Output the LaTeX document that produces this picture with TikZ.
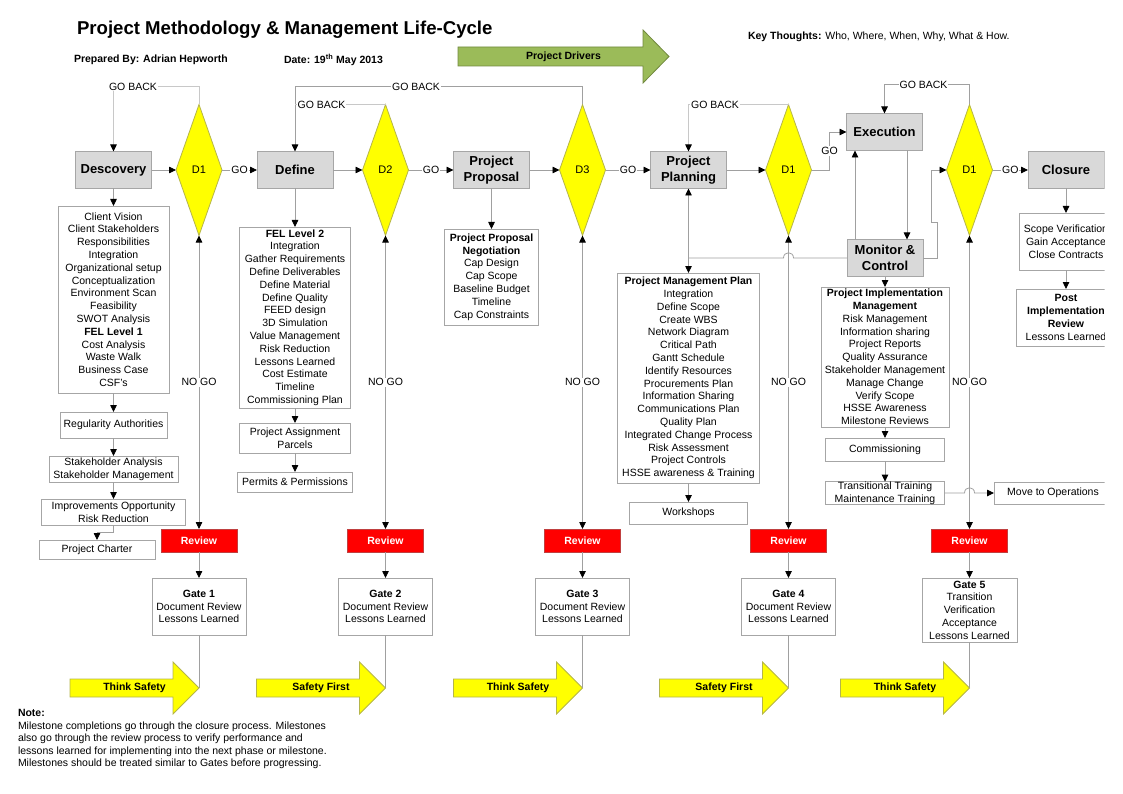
\documentclass[tikz,border=0pt]{standalone}
\usepackage{fontspec}
\setmainfont{Liberation Sans}
\usetikzlibrary{shapes.geometric,arrows.meta,calc}
\definecolor{lnc}{HTML}{A0A0A0}
\definecolor{lnl}{HTML}{C8C8C8}
\definecolor{bxc}{HTML}{A6A6A6}
\definecolor{bxfill}{HTML}{D9D9D9}
\definecolor{yel}{HTML}{FFFF00}
\definecolor{yelb}{HTML}{B5B54A}
\definecolor{grn}{HTML}{9BBB59}
\definecolor{grnb}{HTML}{71893F}
\definecolor{revf}{HTML}{FF0000}
\definecolor{revb}{HTML}{C04040}
\newcommand\safetyarr[2]{%
  \fill[yel, draw=yelb, line width=0.8pt] (#1) -- ++(-26,-26) -- ++(0,17) -- ++(-103,0) -- ++(0,18) -- ++(103,0) -- ++(0,17) -- cycle;
  \node[font=\fontsize{10.5}{12}\selectfont\bfseries] (#1l) at ($(#1)+(-64.5,0)$) {#2};
}
\begin{document}
\begin{tikzpicture}[x=1pt,y=-1pt,
  every node/.style={inner sep=0pt, outer sep=0pt},
  tip/.style={Triangle[length=7pt,width=6.5pt,color=black]},
  lnk/.style={draw=lnc, line width=0.8pt},
  arr/.style={lnk, -{Triangle[length=7pt,width=6.5pt,color=black]}},
  both/.style={lnk, {Triangle[length=7pt,width=6.5pt,color=black]}-{Triangle[length=7pt,width=6.5pt,color=black]}},
  mainbox/.style={draw=bxc, fill=bxfill, line width=0.8pt, minimum width=76pt, minimum height=37pt, align=center, font=\fontsize{13}{15.5}\selectfont\bfseries},
  listbox/.style={draw=bxc, fill=white, line width=0.8pt, align=center, font=\fontsize{10.5}{12.8}\selectfont},
  dia/.style={diamond, draw=yelb, fill=yel, line width=0.8pt, minimum width=46pt, minimum height=131pt, font=\fontsize{11}{13}\selectfont},
  lbl/.style={fill=white, inner sep=1pt, font=\fontsize{10.5}{12}\selectfont},
  review/.style={draw=revb, fill=revf, line width=0.8pt, minimum width=76pt, minimum height=23pt, text=white, font=\fontsize{10.5}{12}\selectfont\bfseries},
  gate/.style={listbox, minimum width=94pt, minimum height=57pt},
]
\useasboundingbox (0,0) rectangle (1123,794);

% header
\node[anchor=west, font=\fontsize{18.6}{22}\selectfont\bfseries] (title) at (77,30) {Project Methodology \& Management Life-Cycle};
\node[anchor=west, font=\fontsize{10.5}{12}\selectfont\bfseries] (prep) at (74,60) {Prepared By: Adrian Hepworth};
\node[anchor=west, font=\fontsize{10.5}{12}\selectfont\bfseries] (date) at (284,60) {Date: 19\textsuperscript{th} May 2013};
\node[anchor=west, font=\fontsize{10.5}{12}\selectfont] (key) at (748,37) {\textbf{Key Thoughts:} Who, Where, When, Why, What \& How.};
\fill[grn, draw=grnb, line width=0.8pt] (458,47) -- (643,47) -- (643,30) -- (669,56.5) -- (643,83) -- (643,66) -- (458,66) -- cycle;
\node[font=\fontsize{10.5}{12}\selectfont\bfseries] (drv) at (563.5,56.5) {Project Drivers};

% main row
\node[mainbox] (disc) at (113.5,170) {Descovery};
\node[dia] (d1) at (199,170) {D1};
\node[mainbox] (def) at (295,170) {Define};
\node[dia] (d2) at (385.5,170) {D2};
\node[mainbox] (pp) at (491.5,170) {Project\\Proposal};
\node[dia] (d3) at (582.5,170) {D3};
\node[mainbox] (ppl) at (688.5,170) {Project\\Planning};
\node[dia] (d4) at (788.5,170) {D1};
\node[mainbox] (exe) at (884.5,132) {Execution};
\node[mainbox] (mon) at (885,258) {Monitor \&\\Control};
\node[dia] (d5) at (969.5,170) {D1};

% discovery column
\node[listbox, minimum width=111pt, minimum height=187pt] (dl) at (113.5,299.5) {Client Vision\\Client Stakeholders\\Responsibilities\\Integration\\Organizational setup\\Conceptualization\\Environment Scan\\Feasibility\\SWOT Analysis\\\textbf{FEL Level 1}\\Cost Analysis\\Waste Walk\\Business Case\\CSF’s};
\node[listbox, minimum width=107pt, minimum height=26pt] (reg) at (113.5,425) {Regularity Authorities};
\node[listbox, minimum width=129pt, minimum height=26pt] (stk) at (113.5,469) {Stakeholder Analysis\\Stakeholder Management};
\node[listbox, minimum width=144pt, minimum height=26pt] (imp) at (113.5,512) {Improvements Opportunity\\Risk Reduction};
\node[listbox, minimum width=116pt, minimum height=19pt] (chr) at (97,549.5) {Project Charter};

% define column
\node[listbox, minimum width=111pt, minimum height=181pt] (fl) at (295,317.5) {\textbf{FEL Level 2}\\Integration\\Gather Requirements\\Define Deliverables\\Define Material\\Define Quality\\FEED design\\3D Simulation\\Value Management\\Risk Reduction\\Lessons Learned\\Cost Estimate\\Timeline\\Commissioning Plan};
\node[listbox, minimum width=111pt, minimum height=30pt] (pap) at (295,438) {Project Assignment\\Parcels};
\node[listbox, minimum width=115pt, minimum height=20pt] (per) at (295,482) {Permits \& Permissions};

% proposal column
\node[listbox, minimum width=94pt, minimum height=96pt] (ppn) at (491.5,277) {\textbf{Project Proposal}\\\textbf{Negotiation}\\Cap Design\\Cap Scope\\Baseline Budget\\Timeline\\Cap Constraints};

% planning column
\node[listbox, minimum width=142pt, minimum height=210pt] (pmp) at (688.5,378) {\textbf{Project Management Plan}\\Integration\\Define Scope\\Create WBS\\Network Diagram\\Critical Path\\Gantt Schedule\\Identify Resources\\Procurements Plan\\Information Sharing\\Communications Plan\\Quality Plan\\Integrated Change Process\\Risk Assessment\\Project Controls\\HSSE awareness \& Training};
\node[listbox, minimum width=118pt, minimum height=22pt] (ws) at (688.5,513) {Workshops};

% monitor column
\node[listbox, minimum width=128pt, minimum height=140pt] (pim) at (885,357) {\textbf{Project Implementation}\\\textbf{Management}\\Risk Management\\Information sharing\\Project Reports\\Quality Assurance\\Stakeholder Management\\Manage Change\\Verify Scope\\HSSE Awareness\\Milestone Reviews};
\node[listbox, minimum width=119pt, minimum height=23pt] (com) at (885,449.5) {Commissioning};
\node[listbox, minimum width=119pt, minimum height=22pt, font=\fontsize{10.5}{13}\selectfont] (trn) at (885,493) {Transitional Training\\Maintenance Training};

% clipped right side
\begin{scope}
\clip (0,0) rectangle (1104.5,794);
\node[mainbox] (clo) at (1066,170) {Closure};
\node[listbox, minimum width=94pt, minimum height=57pt] (scp) at (1066,241.5) {Scope Verification\\Gain Acceptance\\Close Contracts};
\node[listbox, minimum width=100pt, minimum height=57pt, font=\fontsize{10.5}{13}\selectfont] (pst) at (1066,317.5) {\textbf{Post}\\\textbf{Implementation}\\\textbf{Review}\\Lessons Learned};
\node[listbox, minimum width=118pt, minimum height=22pt] (mov) at (1053,493) {Move to Operations};
\end{scope}

% reviews and gates
\node[review] (r1) at (199,540.5) {Review};
\node[review] (r2) at (385.5,540.5) {Review};
\node[review] (r3) at (582.5,540.5) {Review};
\node[review] (r4) at (788.5,540.5) {Review};
\node[review] (r5) at (969.5,540.5) {Review};
\node[gate] (g1) at (199,606.5) {\textbf{Gate 1}\\Document Review\\Lessons Learned};
\node[gate] (g2) at (385.5,606.5) {\textbf{Gate 2}\\Document Review\\Lessons Learned};
\node[gate] (g3) at (582.5,606.5) {\textbf{Gate 3}\\Document Review\\Lessons Learned};
\node[gate] (g4) at (788.5,606.5) {\textbf{Gate 4}\\Document Review\\Lessons Learned};
\node[gate, minimum width=95pt, minimum height=64pt] (g5) at (969.5,610) {\textbf{Gate 5}\\Transition\\Verification\\Acceptance\\Lessons Learned};

\coordinate (t1) at (199,688);
\coordinate (t2) at (385.5,688);
\coordinate (t3) at (582.5,688);
\coordinate (t4) at (788.5,688);
\coordinate (t5) at (969.5,688);
\safetyarr{t1}{Think Safety}
\safetyarr{t2}{Safety First}
\safetyarr{t3}{Think Safety}
\safetyarr{t4}{Safety First}
\safetyarr{t5}{Think Safety}

% main row connectors
\draw[arr] (disc.east) -- (d1.west);
\draw[arr] (d1.east) -- node[lbl] (go1) {GO} (def.west);
\draw[arr] (def.east) -- (d2.west);
\draw[arr] (d2.east) -- node[lbl] (go2) {GO} (pp.west);
\draw[arr] (pp.east) -- (d3.west);
\draw[arr] (d3.east) -- node[lbl] (go3) {GO} (ppl.west);
\draw[arr] (ppl.east) -- (d4.west);
\draw[arr] (d4.east) -- ++(18,0) |- node[lbl, pos=0.25] (go4) {GO} (exe.west);
\draw[arr] (d5.east) -- node[lbl] (go5) {GO} (clo.west);

% go back loops
\draw[arr, draw=lnl] (d1.north) -- ++(0,-18) -| (disc.north);
\node[lbl] (gb1) at (133,86.5) {GO BACK};
\draw[arr] (d3.north) -- ++(0,-18) -| (def.north);
\node[lbl] (gb3) at (416,86.5) {GO BACK};
\draw[lnk, draw=lnl] (d2.north) -- (d2.north -| def.north);
\node[lbl] (gb2) at (321.5,104.5) {GO BACK};
\draw[arr, draw=lnl] (d4.north) -| (ppl.north);
\node[lbl] (gb4) at (715,104.5) {GO BACK};
\draw[arr] (d5.north) -- ++(0,-20) -| (exe.north);
\node[lbl] (gb5) at (923.5,84.5) {GO BACK};

% execution / monitor
\draw[arr] ([xshift=22.5pt]exe.south) -- ([xshift=22pt]mon.north);
\draw[arr] ([xshift=-30pt]mon.north) -- ([xshift=-29.5pt]exe.south);
\draw[arr] (mon.east) -- ++(14.5,0) -- ++(0,-36) -- ++(-6,0) |- (d5.west);
\coordinate (jn) at (688.5,258);
\draw[lnk] (mon.west) -- (793.5,258) .. controls (793.5,251) and (783.5,251) .. (783.5,258) -- (jn);
\draw[arr] (jn) -- (ppl.south);
\draw[arr] (jn) -- (pmp.north);
\draw[arr] (pmp.south) -- (ws.north);
\draw[arr] (mon.south) -- (pim.north);
\draw[arr] (pim.south) -- (com.north);
\draw[arr] (com.south) -- (trn.north);
\draw[arr] (trn.east) -- (964.5,493) .. controls (964.5,486) and (974.5,486) .. (974.5,493) -- (mov.west);

% columns
\draw[arr] (disc.south) -- (dl.north);
\draw[arr] (dl.south) -- (reg.north);
\draw[arr] (reg.south) -- (stk.north);
\draw[arr] (stk.south) -- (imp.north);
\draw[arr] (imp.south) -- ++(0,7) -| (chr.north);
\draw[arr] (def.south) -- (fl.north);
\draw[arr] (fl.south) -- (pap.north);
\draw[arr] (pap.south) -- (per.north);
\draw[arr] (pp.south) -- (ppn.north);
\draw[arr] (clo.south) -- (scp.north);
\draw[arr] (scp.south) -- (pst.north);

% no go lines
\draw[both] (d1.south) -- node[lbl] (ng1) {NO GO} (r1.north);
\draw[both] (d2.south) -- node[lbl] (ng2) {NO GO} (r2.north);
\draw[both] (d3.south) -- node[lbl] (ng3) {NO GO} (r3.north);
\draw[both] (d4.south) -- node[lbl] (ng4) {NO GO} (r4.north);
\draw[both] (d5.south) -- node[lbl] (ng5) {NO GO} (r5.north);

% review -> gate -> safety
\foreach \i in {1,...,5}{
  \draw[arr] (r\i.south) -- (g\i.north);
  \draw[lnk] (g\i.south) -- (t\i);
}

% note
\node[anchor=north west, align=left, font=\fontsize{10.5}{12.5}\selectfont] (note) at (18,709.5) {\textbf{Note:}\\Milestone completions go through the closure process. Milestones\\also go through the review process to verify performance and\\lessons learned for implementing into the next phase or milestone.\\Milestones should be treated similar to Gates before progressing.};
\end{tikzpicture}
\end{document}
